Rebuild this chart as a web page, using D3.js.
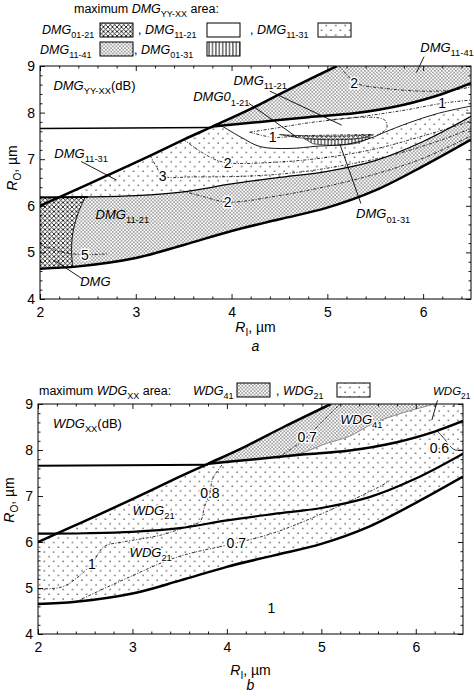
<!DOCTYPE html>
<html>
<head>
<meta charset="utf-8">
<script src="https://cdn.jsdelivr.net/npm/d3@7"></script>
<style>
  body { margin: 0; background: #fff; }
  svg { display: block; font-family: "Liberation Sans", Arial, Helvetica, sans-serif; }
</style>
</head>
<body>
<svg id="chart" width="474" height="696"></svg>
<script>
// boundary curves, points are [R_I, R_O] in µm (shared by both panels)
const cutoffA = [[2, 6.0], [2.5, 6.46], [3, 6.93], [3.5, 7.42], [3.8, 7.7], [4.2, 8.08], [4.6, 8.5], [5.1, 9.0]]
const flatH = [[2, 7.66], [3.8, 7.68]]
const upperB = [[3.8, 7.7], [4.3, 7.8], [4.8, 7.9], [5.3, 7.99], [5.8, 8.17], [6.2, 8.4], [6.5, 8.63]]
const middleC = [[2, 6.18], [2.5, 6.19], [3, 6.22], [3.5, 6.3], [4, 6.47], [4.5, 6.61], [5, 6.74], [5.5, 6.97], [6, 7.38], [6.5, 7.92]]
const lowerD = [[2, 4.65], [2.4, 4.7], [3, 4.88], [3.5, 5.16], [4, 5.46], [4.5, 5.71], [5, 5.96], [5.5, 6.33], [6, 6.85], [6.5, 7.42]]

// panel a: region edges
const crossLeftEdge = [[2.47, 6.18], [2.4, 5.85], [2.35, 5.5], [2.33, 5.1], [2.34, 4.7]]
const whiteEdgeW = [[3.87, 7.75], [4.1, 7.47], [4.3, 7.27], [4.6, 7.23], [4.9, 7.28], [5.2, 7.32], [5.45, 7.45], [5.6, 7.58], [5.85, 7.78], [6.15, 7.98], [6.5, 8.14]]
const lensCross = [[4.5, 7.53], [4.8, 7.5], [5.2, 7.5], [5.48, 7.52], [5.3, 7.44], [5.0, 7.42], [4.7, 7.46]]
const lensVert = [[4.76, 7.44], [5.0, 7.42], [5.3, 7.44], [5.45, 7.47], [5.3, 7.34], [5.05, 7.3], [4.85, 7.33]]

// panel a: DMG contours (dB)
const dmgContours = [
  { label: '2', at: [5.28, 8.64], pts: [[5.12, 9.0], [5.2, 8.82], [5.3, 8.63], [5.6, 8.52], [6.0, 8.46], [6.3, 8.48], [6.5, 8.55]] },
  { label: '1', at: [6.2, 8.21], pts: [[4.19, 7.58], [4.5, 7.68], [4.8, 7.78], [5.3, 7.9], [5.8, 8.05], [6.2, 8.2], [6.5, 8.27]] },
  { label: '', at: null, pts: [[5.0, 7.84], [5.45, 7.9], [5.6, 7.84], [5.62, 7.66], [5.52, 7.52]] },
  { label: '1', at: [4.43, 7.47], pts: [[4.19, 7.58], [4.43, 7.47], [4.7, 7.5], [5.1, 7.52], [5.48, 7.53]] },
  { label: '2', at: [3.96, 6.92], pts: [[3.5, 7.42], [3.65, 7.2], [3.82, 7.0], [3.96, 6.92], [4.5, 6.94], [5.0, 7.04], [5.5, 7.22], [6.0, 7.5], [6.5, 7.82]] },
  { label: '3', at: [3.28, 6.64], pts: [[3.15, 7.08], [3.22, 6.82], [3.28, 6.64], [3.6, 6.62], [4.2, 6.64], [4.7, 6.72], [5.2, 6.88], [5.7, 7.1], [6.2, 7.42], [6.5, 7.66]] },
  { label: '2', at: [3.96, 6.08], pts: [[3.49, 6.32], [3.7, 6.2], [3.96, 6.08], [4.5, 6.22], [5.0, 6.42], [5.5, 6.68], [6.0, 7.02], [6.5, 7.5]] },
  { label: '5', at: [2.47, 4.95], pts: [[2.0, 5.17], [2.15, 5.05], [2.3, 4.98], [2.47, 4.95], [2.7, 4.97]] }
]

// panel b: WDG41 region edge and WDG contours
const grayEdgeG = [[4.65, 7.88], [4.8, 7.94], [5.05, 8.14], [5.3, 8.3], [5.55, 8.58], [5.85, 8.8], [6.2, 9.0]]
const wdgContours = [
  { label: '0.7', at: [4.85, 8.28], pts: [[4.53, 7.82], [4.7, 8.05], [4.85, 8.28], [5.0, 8.6], [5.2, 9.0]] },
  { label: '0.8', at: [3.82, 7.07], pts: [[3.6, 6.35], [3.72, 6.45], [3.76, 6.75], [3.82, 7.07], [3.85, 7.38], [3.95, 7.68]] },
  { label: '1', at: [2.57, 5.53], pts: [[2.0, 4.98], [2.25, 5.02], [2.4, 5.2], [2.57, 5.53], [2.7, 5.9], [2.9, 6.0], [3.3, 6.15], [3.6, 6.35]] },
  { label: '0.7', at: [4.1, 5.98], pts: [[2.4, 4.7], [2.97, 5.24], [3.47, 5.67], [4.1, 5.98], [4.5, 6.2], [5.1, 6.7], [5.65, 7.24], [5.72, 7.33]] },
  { label: '0.6', at: [6.25, 8.05], pts: [[6.22, 8.43], [6.3, 8.25], [6.38, 8.05], [6.42, 8.0], [6.5, 8.0]], solid: true }
]

const xTicks = [2, 3, 4, 5, 6]
const yTicks = [4, 5, 6, 7, 8, 9]

const svg = d3.select('#chart')
const defs = svg.append('defs')

// fill patterns
function pattern(id, w, h, draw) {
  const p = defs.append('pattern').attr('id', id).attr('patternUnits', 'userSpaceOnUse')
    .attr('width', w).attr('height', h)
  p.append('rect').attr('width', w).attr('height', h).attr('fill', '#fff')
  draw(p)
}
pattern('sparse', 9.4, 9.4, p => {
  p.append('circle').attr('cx', 2).attr('cy', 2).attr('r', 0.7)
  p.append('circle').attr('cx', 6.7).attr('cy', 6.7).attr('r', 0.7)
})
pattern('dense', 3.5, 3.5, p => {
  p.append('circle').attr('cx', 0.875).attr('cy', 0.875).attr('r', 0.58)
  p.append('circle').attr('cx', 2.625).attr('cy', 2.625).attr('r', 0.58)
})
pattern('cross', 4.5, 4.5, p => {
  p.append('path').attr('d', 'M0,0L4.5,4.5M4.5,0L0,4.5').attr('stroke', '#000').attr('stroke-width', 0.8)
})
pattern('vert', 3.4, 10, p => {
  p.append('path').attr('d', 'M1.7,0V10').attr('stroke', '#000').attr('stroke-width', 0.9)
})

function rich(g, x, y, parts, size, anchor) {
  const t = g.append('text').attr('x', x).attr('y', y).attr('font-size', size)
    .attr('text-anchor', anchor || 'start')
  let down = false
  const shift = size * 0.32
  parts.forEach(([k, s]) => {
    const ts = t.append('tspan').text(s)
    if (k === 'i') ts.attr('font-style', 'italic')
    if (k === 's') {
      ts.attr('font-size', size * 0.72)
      if (!down) { ts.attr('dy', shift); down = true }
    } else if (down) {
      ts.attr('dy', -shift); down = false
    }
  })
  return t
}

function legendBox(g, x, y, fill) {
  g.append('rect').attr('x', x).attr('y', y).attr('width', 33).attr('height', 14)
    .attr('fill', fill).attr('stroke', '#000').attr('stroke-width', 1)
}

function panel(opt) {
  const x = d3.scaleLinear().domain([2, 6.5]).range([opt.left, opt.right])
  const y = d3.scaleLinear().domain([4, 9]).range([opt.bottom, opt.top])
  const g = svg.append('g')
  const line = d3.line().x(d => x(d[0])).y(d => y(d[1])).curve(d3.curveCatmullRom.alpha(0.5))
  // closed outline from several curved pieces
  const area = (...segs) => segs.map((seg, i) => {
    const d = seg.length > 1 ? line(seg) : `M${x(seg[0][0])},${y(seg[0][1])}`
    return i ? 'L' + d.slice(1) : d
  }).join('') + 'Z'

  g.append('defs').append('clipPath').attr('id', 'clip-' + opt.id)
    .append('rect').attr('x', opt.left).attr('y', opt.top)
    .attr('width', opt.right - opt.left).attr('height', opt.bottom - opt.top)
  const plot = g.append('g').attr('clip-path', `url(#clip-${opt.id})`)

  const s = { x, y, g, plot, line, area }
  opt.draw(s)

  // axes with inward ticks on all four sides
  const xMinor = d3.range(0, 23).map(i => 2 + i * 0.2).filter(v => Math.abs(v - Math.round(v)) > 1e-6)
  const yMinor = d3.range(0, 26).map(i => 4 + i * 0.2).filter(v => Math.abs(v - Math.round(v)) > 1e-6)
  const ax = (gen, sc, vals, size, pad, fmt, tr) => {
    const a = g.append('g').attr('transform', tr)
      .call(gen(sc).tickValues(vals).tickSize(size).tickPadding(pad).tickFormat(fmt))
    a.select('.domain').remove()
    a.attr('font-family', null).attr('font-size', 14)
    a.selectAll('line').attr('stroke-width', 0.9)
    return a
  }
  const fmt = d3.format('d')
  ax(d3.axisBottom, x, xTicks, -5, 8, fmt, `translate(0,${opt.bottom})`)
  ax(d3.axisBottom, x, xMinor, -2.5, 0, () => '', `translate(0,${opt.bottom})`)
  ax(d3.axisTop, x, xTicks, -5, 0, () => '', `translate(0,${opt.top})`)
  ax(d3.axisTop, x, xMinor, -2.5, 0, () => '', `translate(0,${opt.top})`)
  ax(d3.axisLeft, y, yTicks, -5, 5, fmt, `translate(${opt.left},0)`)
  ax(d3.axisLeft, y, yMinor, -2.5, 0, () => '', `translate(${opt.left},0)`)
  ax(d3.axisRight, y, yTicks, -5, 0, () => '', `translate(${opt.right},0)`)
  ax(d3.axisRight, y, yMinor, -2.5, 0, () => '', `translate(${opt.right},0)`)

  g.append('rect').attr('x', opt.left).attr('y', opt.top)
    .attr('width', opt.right - opt.left).attr('height', opt.bottom - opt.top)
    .attr('fill', 'none').attr('stroke', '#000').attr('stroke-width', 1)

  const cx = (opt.left + opt.right) / 2
  rich(g, cx, opt.xTitleY, [['i', 'R'], ['s', 'I'], ['n', ', µm']], 14, 'middle')
  rich(g, cx, opt.letterY, [['i', opt.letter]], 14, 'middle')
  const yt = rich(g, 0, 0, [['i', 'R'], ['s', 'O'], ['n', ', µm']], 14, 'middle')
  yt.attr('transform', `translate(${opt.yTitleX},${opt.yTitleY}) rotate(-90)`)
  return s
}

function stroke(s, pts, w, extra) {
  const p = s.plot.append('path').attr('d', s.line(pts)).attr('fill', 'none')
    .attr('stroke', '#000').attr('stroke-width', w).attr('stroke-linejoin', 'round')
  if (extra) extra(p)
  return p
}

function contours(s, list) {
  list.forEach(c => {
    stroke(s, c.pts, 0.8, p => { if (!c.solid) p.attr('stroke-dasharray', '3,1.5,1,1.5') })
  })
  list.filter(c => c.label).forEach(c => {
    s.plot.append('text').attr('x', s.x(c.at[0])).attr('y', s.y(c.at[1])).attr('dy', '0.35em')
      .attr('text-anchor', 'middle').attr('font-size', 14).text(c.label)
      .attr('stroke', '#fff').attr('stroke-width', 3).attr('paint-order', 'stroke')
  })
}

function leader(g, s, a, b) {
  g.append('line').attr('x1', s.x(a[0])).attr('y1', s.y(a[1])).attr('x2', s.x(b[0])).attr('y2', s.y(b[1]))
    .attr('stroke', '#000').attr('stroke-width', 0.9)
}

const rev = a => a.slice().reverse()

// ---------- panel a ----------
const leg = svg.append('g')
rich(leg, 74, 13, [['n', 'maximum  '], ['i', 'DMG'], ['s', 'YY-XX'], ['n', ' area:']], 12.5)
rich(leg, 42, 34, [['i', 'DMG'], ['s', '01-21']], 12.5)
legendBox(leg, 100, 23, 'url(#cross)')
rich(leg, 138, 34, [['n', ', '], ['i', 'DMG'], ['s', '11-21']], 12.5)
legendBox(leg, 207, 23, '#fff')
rich(leg, 250, 34, [['n', ', '], ['i', 'DMG'], ['s', '11-31']], 12.5)
legendBox(leg, 318, 23, 'url(#sparse)')
rich(leg, 40, 54, [['i', 'DMG'], ['s', '11-41']], 12.5)
legendBox(leg, 100, 42, 'url(#dense)')
rich(leg, 134, 54, [['n', ', '], ['i', 'DMG'], ['s', '01-31']], 12.5)
legendBox(leg, 207, 42, 'url(#vert)')

panel({
  id: 'a', left: 40, right: 471, top: 66, bottom: 299,
  xTitleY: 332, letterY: 351, letter: 'a', yTitleX: 17, yTitleY: 168,
  draw(s) {
    const { plot, area } = s
    const fill = (d, f) => plot.append('path').attr('d', d).attr('fill', f)
    fill(area(cutoffA.filter(d => d[0] <= 3.8), upperB, rev(middleC)), 'url(#sparse)')
    fill(area(middleC, rev(lowerD)), 'url(#dense)')
    fill(area(cutoffA.filter(d => d[0] >= 3.8), [[6.5, 9]], rev(upperB)), 'url(#dense)')
    fill(area(upperB, rev(whiteEdgeW)), '#fff')
    fill(area([middleC[0]], crossLeftEdge, [lowerD[0]]), 'url(#cross)')
    fill(area(lensVert), 'url(#vert)').attr('stroke', '#000').attr('stroke-width', 0.6)
    fill(area(lensCross), 'url(#cross)').attr('stroke', '#000').attr('stroke-width', 0.6)

    stroke(s, whiteEdgeW, 0.9)
    stroke(s, crossLeftEdge, 0.9)
    stroke(s, middleC, 1.3)
    stroke(s, middleC.filter(d => d[0] <= 2.5), 2)
    stroke(s, flatH, 1.5)
    stroke(s, cutoffA, 2.5)
    stroke(s, upperB, 2.5)
    stroke(s, lowerD, 2.5)
    contours(s, dmgContours)

    const g = s.g
    rich(g, s.x(2.14), s.y(8.48), [['i', 'DMG'], ['s', 'YY-XX'], ['n', '(dB)']], 13)
    rich(g, s.x(4.02), s.y(8.6), [['i', 'DMG'], ['s', '11-21']], 13)
    leader(g, s, [4.4, 8.46], [5.15, 7.73])
    rich(g, s.x(3.6), s.y(8.24), [['i', 'DMG0'], ['s', '1-21']], 13)
    leader(g, s, [4.18, 8.2], [4.69, 7.46])
    rich(g, s.x(2.15), s.y(7.02), [['i', 'DMG'], ['s', '11-31']], 13)
    leader(g, s, [2.43, 6.95], [2.8, 6.55])
    rich(g, s.x(2.58), s.y(5.72), [['i', 'DMG'], ['s', '11-21']], 13)
    rich(g, s.x(2.42), s.y(4.28), [['i', 'DMG']], 13)
    leader(g, s, [2.45, 4.42], [2.15, 4.83])
    rich(g, s.x(5.3), s.y(5.73), [['i', 'DMG'], ['s', '01-31']], 13)
    leader(g, s, [5.35, 6.05], [5.13, 7.33])
    rich(g, s.x(6.25), s.y(9.3), [['i', 'DMG'], ['s', '11-41']], 13, 'middle')
    leader(g, s, [6.01, 9.2], [5.93, 8.86])
  }
})

// ---------- panel b ----------
const legB = svg.append('g')
rich(legB, 39, 395, [['n', 'maximum  '], ['i', 'WDG'], ['s', 'XX'], ['n', ' area:']], 12.5)
rich(legB, 193, 395, [['i', 'WDG'], ['s', '41']], 12.5)
legendBox(legB, 237, 383, 'url(#dense)')
rich(legB, 276, 395, [['n', ', '], ['i', 'WDG'], ['s', '21']], 12.5)
legendBox(legB, 337, 383, 'url(#sparse)')

panel({
  id: 'b', left: 38, right: 463, top: 404, bottom: 634,
  xTitleY: 675, letterY: 690, letter: 'b', yTitleX: 14, yTitleY: 500,
  draw(s) {
    const { plot, area } = s
    plot.append('path').attr('d', area(cutoffA, [[6.5, 9]], rev(lowerD))).attr('fill', 'url(#sparse)')
    const dense = area(cutoffA.filter(d => d[0] >= 3.8), rev(grayEdgeG), rev(upperB.filter(d => d[0] < 4.65)))
    plot.append('path').attr('d', dense).attr('fill', 'url(#dense)')

    stroke(s, grayEdgeG, 1, p => p.attr('stroke', '#8a8a8a'))
    stroke(s, flatH, 2)
    stroke(s, middleC, 2.2)
    stroke(s, cutoffA, 2.5)
    stroke(s, upperB, 2.5)
    stroke(s, lowerD, 2.5)
    contours(s, wdgContours)

    const g = s.g
    const halo = t => t.attr('stroke', '#fff').attr('stroke-width', 2.5).attr('paint-order', 'stroke')
    rich(g, s.x(2.16), s.y(8.48), [['i', 'WDG'], ['s', 'XX'], ['n', '(dB)']], 13)
    halo(rich(g, s.x(5.2), s.y(8.57), [['i', 'WDG'], ['s', '41']], 13))
    halo(rich(g, s.x(3.0), s.y(6.58), [['i', 'WDG'], ['s', '21']], 13))
    halo(rich(g, s.x(2.97), s.y(5.68), [['i', 'WDG'], ['s', '21']], 13))
    rich(g, s.x(6.38), s.y(9.19), [['i', 'WDG'], ['s', '21']], 11.5, 'middle')
    leader(g, s, [6.23, 9.08], [6.17, 8.65])
    g.append('text').attr('x', s.x(4.47)).attr('y', s.y(4.57)).attr('dy', '0.35em')
      .attr('text-anchor', 'middle').attr('font-size', 14).text('1')
  }
})
</script>
</body>
</html>
